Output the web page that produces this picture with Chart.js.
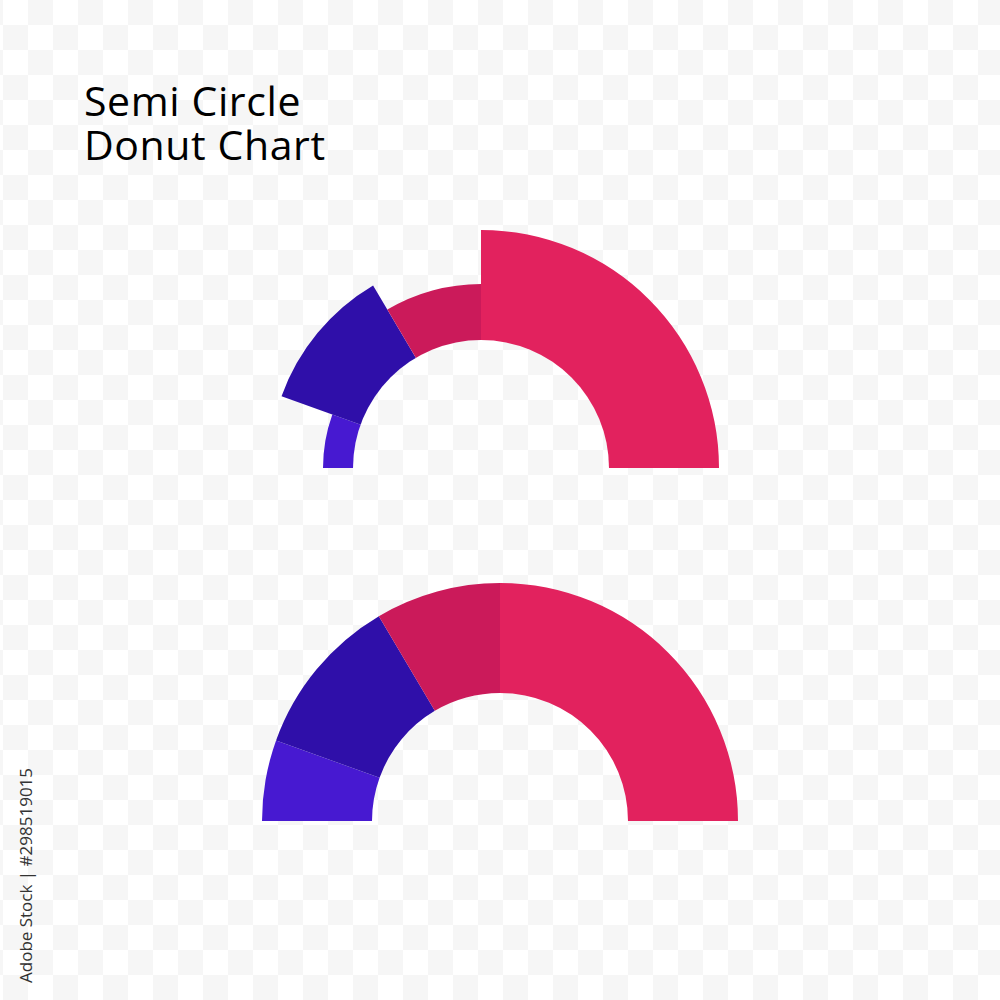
<!DOCTYPE html>
<html>
  <head>
    <title>Semi Circle Donut Chart</title>
    <script src="https://cdn.jsdelivr.net/npm/chart.js"></script>
    <style>
      body {
        margin: 0;
        padding: 0;
        width: 1000px;
        height: 1000px;
        overflow: hidden;
        position: relative;
        background-color: #ffffff;
        /* damier de transparence */
        background-image: linear-gradient(45deg, #f6f6f6 25%, transparent 25%, transparent 75%, #f6f6f6 75%),
          linear-gradient(45deg, #f6f6f6 25%, transparent 25%, transparent 75%, #f6f6f6 75%);
        background-size: 50px 50px;
        background-position: 3px 0, 28px 25px;
      }
      .title {
        position: absolute;
        left: 84px;
        top: 79px;
        font-family: "Open Sans", sans-serif;
        font-size: 41px;
        line-height: 43.5px;
        letter-spacing: 0.6px;
        color: #000000;
      }
      .side {
        position: absolute;
        left: 0;
        top: 0;
        transform-origin: 0 0;
        transform: translate(17px, 983px) rotate(-90deg);
        font-family: "Open Sans", sans-serif;
        font-size: 17px;
        line-height: 17px;
        white-space: nowrap;
        color: #333333;
      }
      canvas {
        position: absolute;
      }
      #topChart {
        left: 237px;
        top: 224px;
      }
      #bottomChart {
        left: 256px;
        top: 577px;
      }
    </style>
  </head>
  <body>
    <div class="title">Semi Circle<br />Donut Chart</div>
    <div class="side">Adobe Stock | #298519015</div>
    <canvas id="topChart" width="488" height="488"></canvas>
    <canvas id="bottomChart" width="488" height="250"></canvas>
    <script>
      // parts de chaque tranche (de gauche à droite)
      const labels = ["Part 1", "Part 2", "Part 3", "Part 4"];
      const shares = [11, 22, 17, 50];
      // hauteur radiale de chaque tranche du graphique du haut
      const topLevels = [30, 84, 56, 110];
      const colors = ["#4719d1", "#2f0fa9", "#cb1a5a", "#e2225e"];

      const total = shares.reduce((a, b) => a + b, 0);

      // perce le centre du graphique polaire (valeur 0 = bord intérieur)
      const cutHole = {
        id: "cutHole",
        afterDatasetsDraw(chart) {
          const r = chart.scales.r;
          const ctx = chart.ctx;
          ctx.save();
          ctx.globalCompositeOperation = "destination-out";
          ctx.beginPath();
          ctx.arc(r.xCenter, r.yCenter, r.getDistanceFromCenterForValue(0), 0, Math.PI * 2);
          ctx.fill();
          ctx.restore();
        },
      };

      new Chart(document.getElementById("topChart"), {
        type: "polarArea",
        data: {
          labels: labels,
          datasets: [
            {
              data: topLevels,
              backgroundColor: colors,
              borderWidth: 0,
              angle: (c) => (shares[c.dataIndex] / total) * 180,
            },
          ],
        },
        options: {
          responsive: false,
          animation: false,
          layout: { padding: 6 },
          scales: {
            r: { display: false, min: -128, max: 110, startAngle: -90 },
          },
          plugins: {
            legend: { display: false },
            tooltip: { enabled: false },
          },
        },
        plugins: [cutHole],
      });

      new Chart(document.getElementById("bottomChart"), {
        type: "doughnut",
        data: {
          labels: labels,
          datasets: [
            {
              data: shares,
              backgroundColor: colors,
              borderWidth: 0,
            },
          ],
        },
        options: {
          responsive: false,
          animation: false,
          rotation: -90,
          circumference: 180,
          radius: 238,
          cutout: "53.78%",
          layout: { padding: 6 },
          plugins: {
            legend: { display: false },
            tooltip: { enabled: false },
          },
        },
      });
    </script>
  </body>
</html>
